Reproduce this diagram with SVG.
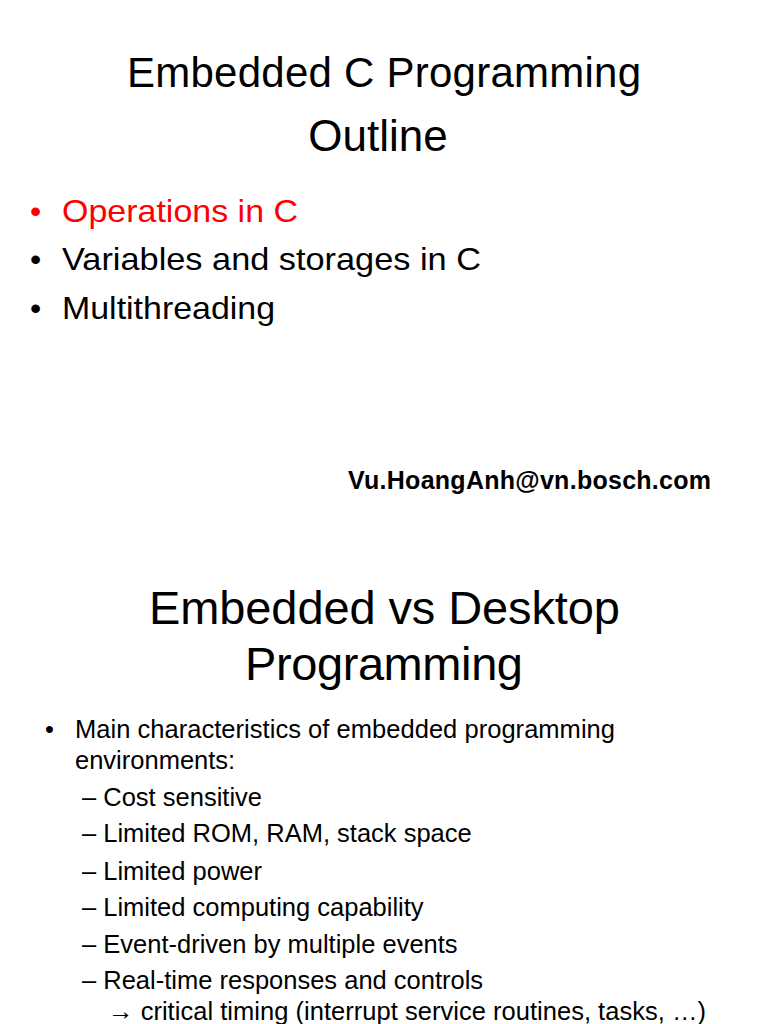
<svg xmlns="http://www.w3.org/2000/svg" width="768" height="1024" viewBox="0 0 768 1024">
<style>
text{font-family:"Liberation Sans",Arial,sans-serif;fill:#000}
.t{text-anchor:middle}
.b{font-size:32px}
.s{font-size:25.5px}
</style>
<rect width="768" height="1024" fill="#fff"/>
<g id="slide1">
<text x="127" y="87" font-size="42" textLength="514">Embedded C Programming</text>
<text class="t" x="378" y="151" font-size="44">Outline</text>
<text class="b" x="30" y="222" style="fill:#f00">•</text><text class="b" x="62" y="222" style="fill:#f00" textLength="236" lengthAdjust="spacingAndGlyphs">Operations in C</text>
<text class="b" x="30" y="270">•</text><text class="b" x="62" y="270" textLength="419" lengthAdjust="spacingAndGlyphs">Variables and storages in C</text>
<text class="b" x="30" y="319">•</text><text class="b" x="62" y="319" textLength="213" lengthAdjust="spacingAndGlyphs">Multithreading</text>
<text x="348" y="489" font-size="25" font-weight="bold" textLength="363">Vu.HoangAnh@vn.bosch.com</text>
</g>
<g id="slide2">
<text x="149" y="624" font-size="47" textLength="471">Embedded vs Desktop</text>
<text x="245" y="680" font-size="47" textLength="278">Programming</text>
<text class="s" x="45" y="738">•</text><text class="s" x="75" y="738" textLength="540">Main characteristics of embedded programming</text>
<text class="s" x="75" y="769">environments:</text>
<text class="s" x="82" y="806">– Cost sensitive</text>
<text class="s" x="82" y="842">– Limited ROM, RAM, stack space</text>
<text class="s" x="82" y="880">– Limited power</text>
<text class="s" x="82" y="916">– Limited computing capability</text>
<text class="s" x="82" y="953">– Event-driven by multiple events</text>
<text class="s" x="82" y="989">– Real-time responses and controls</text>
<text class="s" x="108" y="1020" textLength="598">→ critical timing (interrupt service routines, tasks, …)</text>
</g>
</svg>
